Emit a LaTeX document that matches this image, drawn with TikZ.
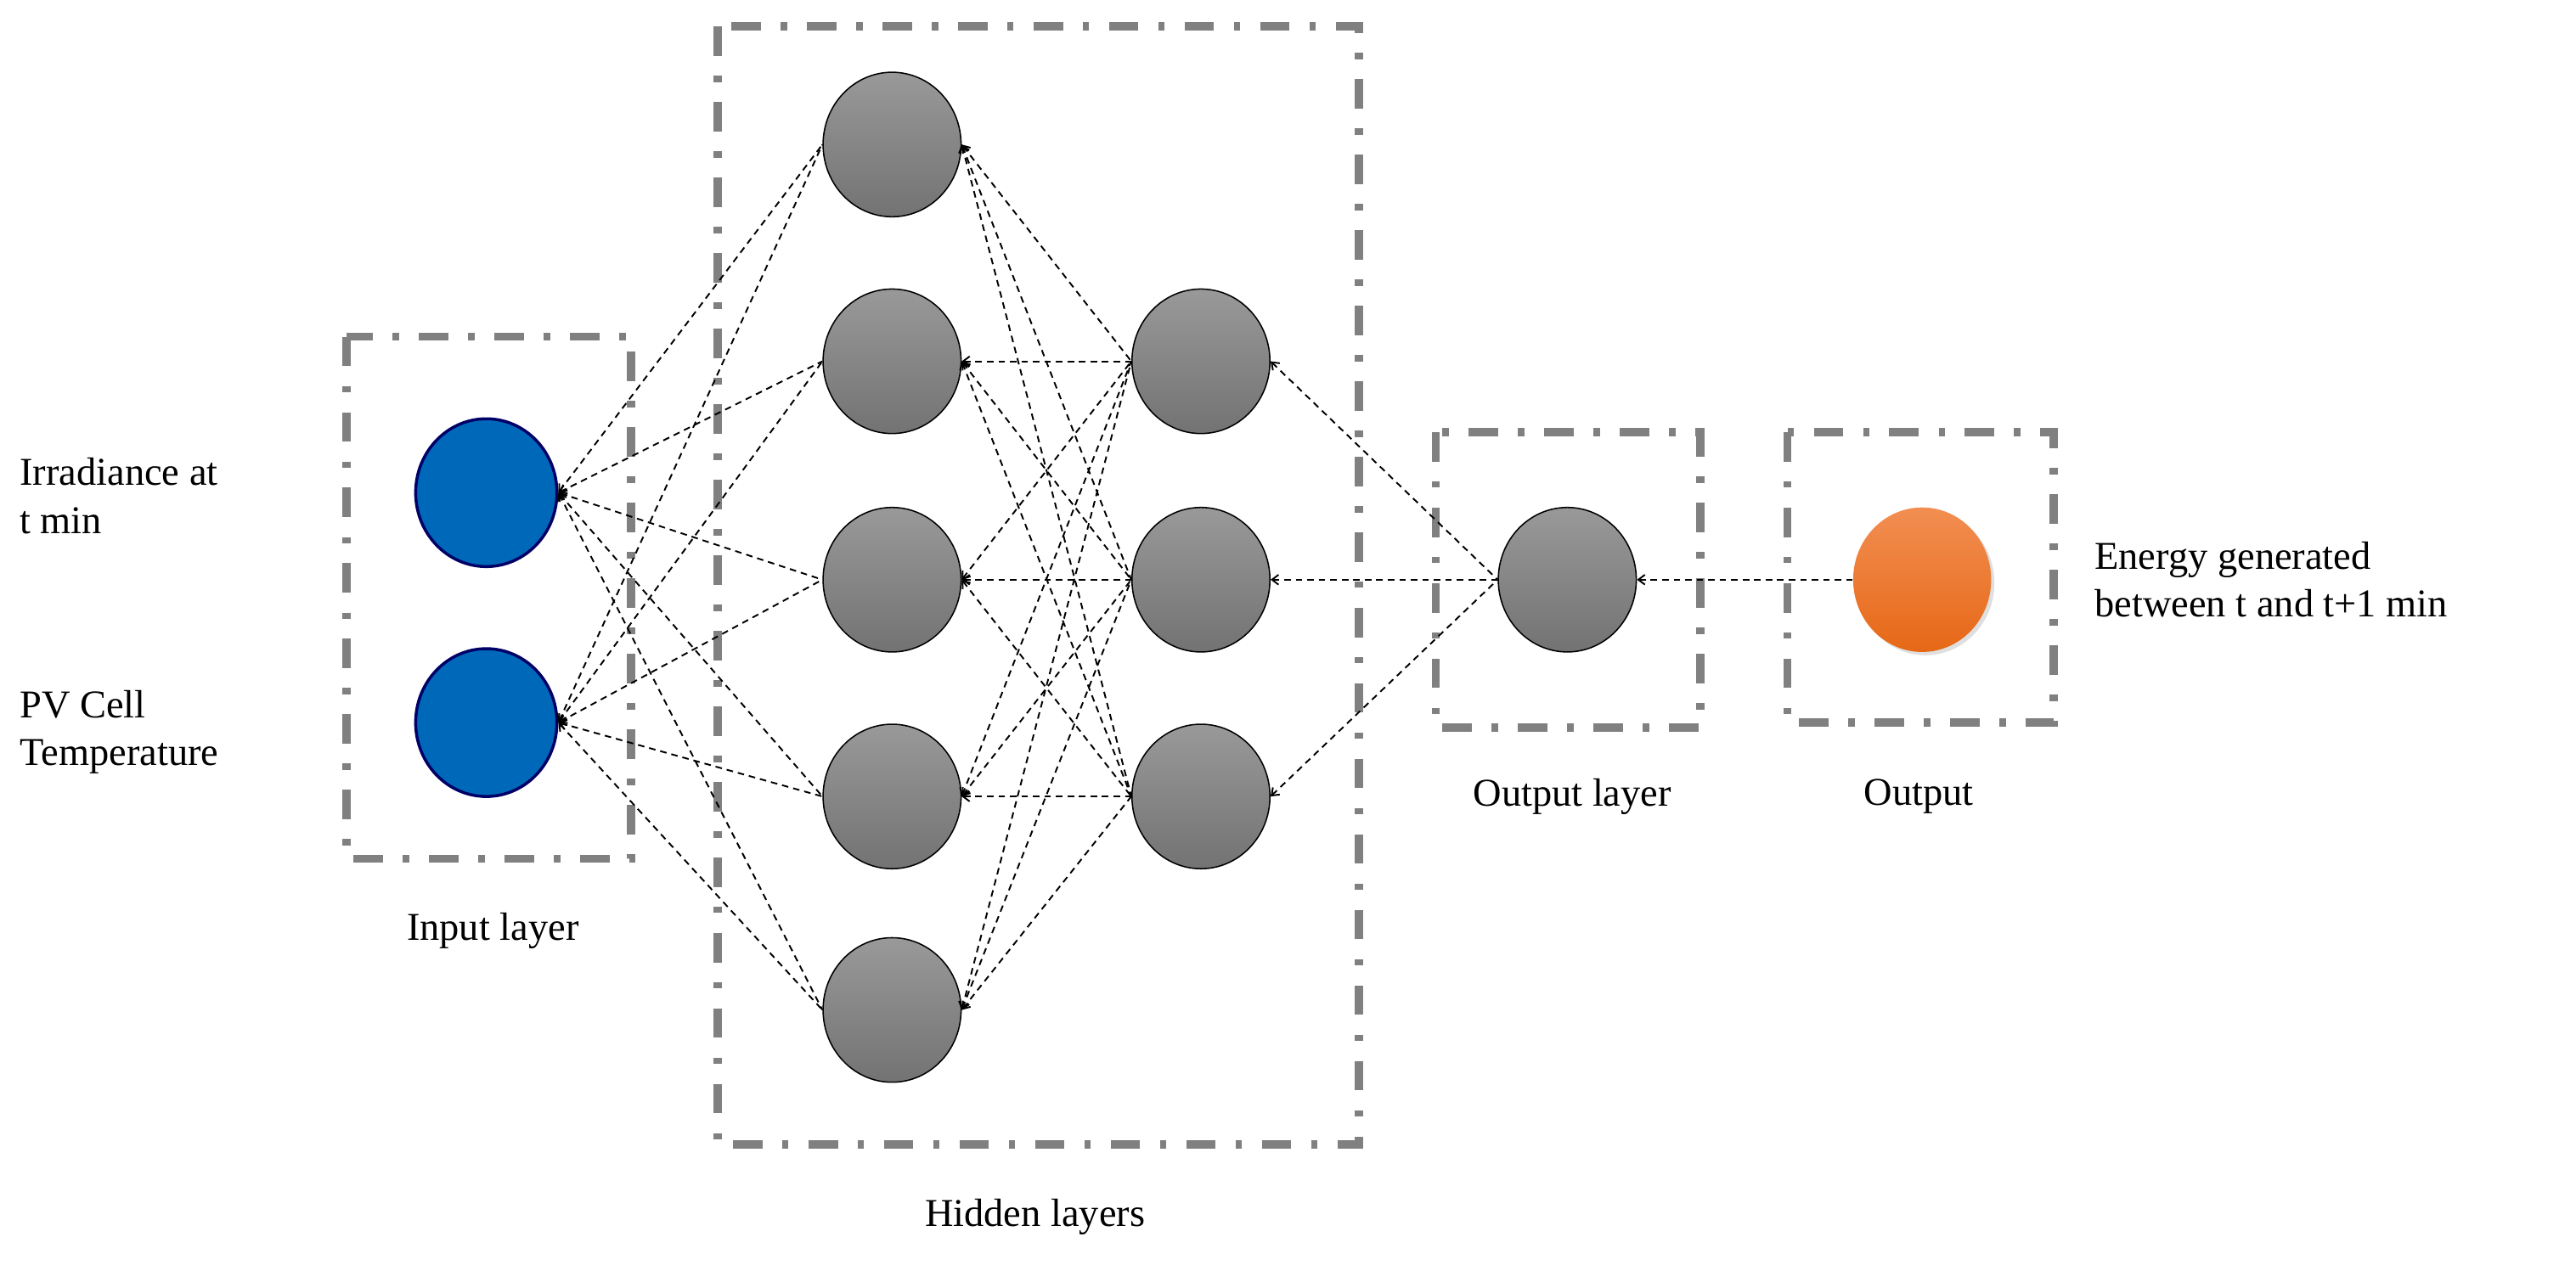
\documentclass[tikz,border=0pt]{standalone}
\usepackage{fontspec}
\setmainfont{Liberation Serif}
\usetikzlibrary{shadows,shapes.geometric,arrows.meta}
\begin{document}
\begin{tikzpicture}[x=0.5pt,y=-0.5pt,
  neuron/.style={ellipse,minimum width=42pt,minimum height=44pt,inner sep=0pt,draw=black,line width=0.4pt,top color=black!40,bottom color=black!55},
  inp/.style={ellipse,minimum width=43pt,minimum height=45pt,inner sep=0pt,draw=blue!40!black,line width=0.9pt,fill={rgb,255:red,0;green,104;blue,184}},
  outn/.style={ellipse,minimum width=42pt,minimum height=44pt,inner sep=0pt,top color={rgb,255:red,242;green,142;blue,82},bottom color={rgb,255:red,230;green,104;blue,22},drop shadow={opacity=0.25,shadow xshift=1pt,shadow yshift=-1pt}},
  box/.style={draw=black!50,line width=2.5pt,dash pattern=on 9pt off 6pt on 2pt off 6pt},
  conn/.style={line width=0.5pt,dash pattern=on 2pt off 1.5pt,{Straight Barb[length=2pt,width=3pt]}-},
  lbl/.style={font=\fontsize{12}{14.5}\selectfont,align=left}]
\useasboundingbox (0,0) rectangle (1568,770);
% boxes
\draw[box] (211,205) rectangle (384,523);
\draw[box] (437,16) rectangle (827,697);
\draw[box] (874,263) rectangle (1035,443);
\draw[box] (1088,263) rectangle (1250,440);
% nodes
\node[inp] (i1) at (296,300) {};
\node[inp] (i2) at (296,440) {};
\foreach \k/\y in {1/88,2/220,3/353,4/485,5/615} \node[neuron] (h\k) at (543,\y) {};
\foreach \k/\y in {1/220,2/353,3/485} \node[neuron] (g\k) at (731,\y) {};
\node[neuron] (o) at (954,353) {};
\node[outn] (y) at (1170,353) {};
% connectors
\foreach \a in {1,2} \foreach \b in {1,...,5} \draw[conn] (i\a.east) -- (h\b.west);
\foreach \a in {1,...,5} \foreach \b in {1,2,3} \draw[conn] (h\a.east) -- (g\b.west);
\foreach \a in {1,2,3} \draw[conn] (g\a.east) -- (o.west);
\draw[conn] (o.east) -- (y.west);
% labels
\node[lbl,anchor=west] (t1) at (5,302) {Irradiance at\\t min};
\node[lbl,anchor=west] (t2) at (5,446) {PV Cell\\Temperature};
\node[lbl] (t3) at (300,567) {Input layer};
\node[lbl] (t4) at (630,741) {Hidden layers};
\node[lbl] (t5) at (957,485) {Output layer};
\node[lbl] (t6) at (1168,485) {Output};
\node[lbl,anchor=west] (t7) at (1268,353) {Energy generated\\between t and t+1 min};
\end{tikzpicture}
\end{document}
